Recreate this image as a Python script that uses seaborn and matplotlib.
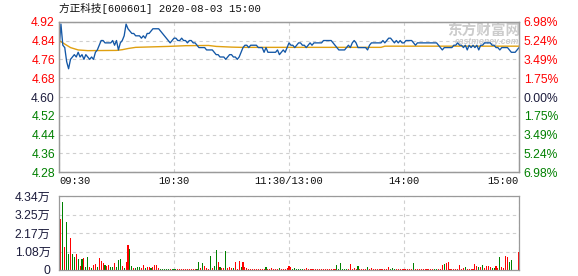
import matplotlib
matplotlib.use('Agg')
import matplotlib.pyplot as plt
import seaborn as sns
import pandas as pd

sns.set_theme(style='white')
plt.rcParams['font.family'] = ['Liberation Sans', 'Noto Sans CJK SC', 'DejaVu Sans']

# ---------------- data ----------------
title = '方正科技[600601] 2020-08-03 15:00'
prev_close = 4.60
price_ticks = [4.92, 4.84, 4.76, 4.68, 4.60, 4.52, 4.44, 4.36, 4.28]
pct_labels = ['6.98%', '5.24%', '3.49%', '1.75%', '0.00%', '1.75%', '3.49%', '5.24%', '6.98%']
vol_ticks = [4.34, 3.25, 2.17, 1.08, 0]
vol_labels = ['4.34万', '3.25万', '2.17万', '1.08万', '0']
time_ticks = [0, 60, 120, 180, 240]
time_labels = ['09:30', '10:30', '11:30/13:00', '14:00', '15:00']

minutes = list(range(241))

prices = [
    4.80, 4.91, 4.82, 4.81, 4.75, 4.72, 4.76, 4.77, 4.78, 4.77,
    4.79, 4.77, 4.78, 4.76, 4.78, 4.77, 4.76, 4.77, 4.76, 4.79,
    4.80, 4.82, 4.84, 4.84, 4.83, 4.83, 4.83, 4.83, 4.84, 4.82,
    4.84, 4.80, 4.83, 4.84, 4.86, 4.91, 4.89, 4.88, 4.87, 4.87,
    4.86, 4.86, 4.86, 4.85, 4.86, 4.85, 4.87, 4.87, 4.88, 4.89,
    4.89, 4.89, 4.89, 4.88, 4.87, 4.86, 4.85, 4.84, 4.83, 4.84,
    4.85, 4.85, 4.84, 4.84, 4.85, 4.84, 4.84, 4.83, 4.84, 4.84,
    4.83, 4.83, 4.82, 4.81, 4.81, 4.81, 4.81, 4.80, 4.80, 4.80,
    4.80, 4.79, 4.78, 4.78, 4.77, 4.77, 4.77, 4.76, 4.77, 4.78,
    4.78, 4.77, 4.77, 4.76, 4.77, 4.79, 4.81, 4.82, 4.82, 4.81,
    4.82, 4.82, 4.82, 4.82, 4.81, 4.81, 4.81, 4.79, 4.81, 4.79,
    4.79, 4.79, 4.79, 4.79, 4.80, 4.78, 4.79, 4.80, 4.79, 4.81,
    4.83, 4.82, 4.82, 4.81, 4.82, 4.83, 4.83, 4.82, 4.82, 4.81,
    4.82, 4.83, 4.82, 4.83, 4.83, 4.83, 4.83, 4.83, 4.84, 4.84,
    4.84, 4.84, 4.84, 4.83, 4.82, 4.81, 4.80, 4.80, 4.80, 4.80,
    4.81, 4.82, 4.81, 4.83, 4.84, 4.83, 4.81, 4.81, 4.81, 4.81,
    4.81, 4.80, 4.82, 4.83, 4.83, 4.83, 4.83, 4.83, 4.83, 4.84,
    4.83, 4.84, 4.85, 4.85, 4.84, 4.83, 4.84, 4.83, 4.84, 4.83,
    4.83, 4.84, 4.84, 4.84, 4.84, 4.83, 4.82, 4.83, 4.83, 4.83,
    4.83, 4.83, 4.83, 4.83, 4.83, 4.83, 4.83, 4.83, 4.82, 4.81,
    4.80, 4.81, 4.81, 4.81, 4.81, 4.81, 4.82, 4.82, 4.83, 4.82,
    4.82, 4.81, 4.82, 4.80, 4.82, 4.81, 4.82, 4.81, 4.82, 4.80,
    4.82, 4.82, 4.83, 4.83, 4.83, 4.83, 4.82, 4.82, 4.81, 4.81,
    4.80, 4.81, 4.81, 4.81, 4.81, 4.80, 4.79, 4.79, 4.79, 4.80,
    4.81,
]

avg_minutes = [0, 3, 6, 10, 15, 30, 33, 36, 40, 57, 66, 78, 82, 90, 95, 168, 170, 240]
avg_prices = [4.84, 4.825, 4.81, 4.80, 4.797, 4.798, 4.801, 4.806, 4.811, 4.815,
              4.818, 4.819, 4.815, 4.812, 4.811, 4.811, 4.816, 4.816]

# volume in 万 (10k shares), per minute
volumes = [
    0.00,
    3.00, 3.98, 1.35, 2.81, 0.94, 1.86, 0.94, 0.74, 0.94, 0.64,
    0.23, 0.64, 0.70, 0.16, 0.74, 0.16, 0.12, 0.29, 0.35, 0.16,
    0.68, 0.53, 0.39, 0.29, 0.23, 0.29, 0.16, 0.16, 0.39, 0.16,
    0.59, 0.64, 0.23, 0.10, 0.49, 1.46, 1.23, 0.23, 0.10, 0.10,
    0.16, 0.16, 0.10, 0.27, 0.10, 0.16, 0.16, 0.10, 0.20, 0.27,
    0.27, 0.10, 0.06, 0.06, 0.06, 0.06, 0.06, 0.06, 0.06, 0.06,
    0.06, 0.06, 0.06, 0.06, 0.06, 0.06, 0.06, 0.06, 0.06, 0.06,
    0.06, 0.06, 0.47, 0.10, 0.43, 0.23, 0.10, 0.06, 0.82, 0.10,
    0.23, 1.17, 0.47, 0.20, 0.10, 0.10, 1.13, 0.10, 0.16, 0.10,
    0.10, 0.49, 0.06, 0.55, 0.16, 0.45, 0.16, 0.10, 0.06, 0.06,
    0.06, 0.06, 0.06, 0.06, 0.06, 0.06, 0.06, 0.20, 0.06, 0.06,
    0.10, 0.06, 0.06, 0.06, 0.10, 0.06, 0.06, 0.06, 0.10, 0.23,
    0.16, 0.06, 0.10, 0.06, 0.06, 0.06, 0.06, 0.06, 0.10, 0.06,
    0.06, 0.06, 0.06, 0.06, 0.06, 0.06, 0.06, 0.06, 0.06, 0.06,
    0.06, 0.06, 0.06, 0.06, 0.29, 0.06, 0.41, 0.06, 0.06, 0.06,
    0.06, 0.35, 0.06, 0.10, 0.06, 0.23, 0.06, 0.06, 0.06, 0.06,
    0.16, 0.06, 0.10, 0.06, 0.06, 0.06, 0.06, 0.06, 0.06, 0.06,
    0.06, 0.16, 0.06, 0.10, 0.06, 0.06, 0.06, 0.06, 0.06, 0.06,
    0.06, 0.06, 0.06, 0.06, 0.41, 0.06, 0.06, 0.06, 0.06, 0.06,
    0.06, 0.06, 0.06, 0.06, 0.06, 0.06, 0.06, 0.06, 0.06, 0.29,
    0.35, 0.41, 0.47, 0.06, 0.06, 0.06, 0.06, 0.06, 0.29, 0.06,
    0.10, 0.16, 0.06, 0.06, 0.06, 0.06, 0.35, 0.23, 0.16, 0.20,
    0.29, 0.10, 0.23, 0.23, 0.16, 0.10, 0.10, 0.23, 0.10, 0.76,
    0.16, 0.10, 0.82, 0.78, 0.49, 0.59, 0.00, 0.00, 0.00, 1.04,
]
vol_dirs = (
    "r"
    "rgrggrggrg"
    "rgrggrgrrg"
    "rrrgrrggrg"
    "ggrgrrggrg"
    "ggrrgrrgrr"
    "rrgggggrgg"
    "grrrrrrrrr"
    "rggrgrrrgr"
    "ggrgrrgrrr"
    "grrrgrrrrr"
    "rrrrrrrgrr"
    "rrrrgrrrrr"
    "rggggggrrr"
    "rrrrrrrrrr"
    "rrrrggggg"
    "grrrrrgrrrr"
    "grrrrrrrrr"
    "rrggg"
    "rrrrrrrrrgrrrrr"
    "rrrrrggrrr"
    "grrrrrrrrr"
    "rgrrrrrrgr"
    "grrrrggrrg"
    "rrrrggrrrr"
)

up_color = '#ff0000'
down_color = '#008000'
flat_color = '#1c1c3c'
line_color = '#1357a6'
avg_color = '#e0a010'
grid_color = '#cfcfcf'
border_color = '#9a9a9a'

n = len(volumes)
vol_dirs = (vol_dirs + 'r' * n)[:n]
vol_df = pd.DataFrame({'minute': minutes[:n], 'vol': volumes, 'dir': list(vol_dirs)})
price_df = pd.DataFrame({'minute': minutes[:len(prices)], 'price': prices})
avg_df = pd.DataFrame({'minute': avg_minutes, 'price': avg_prices})

# ---------------- figure ----------------
W, H = 578, 276
fig = plt.figure(figsize=(W / 100, H / 100), dpi=100)
fig.patch.set_facecolor('white')
ax = fig.add_axes([59 / W, 103.7 / H, 460 / W, 150.6 / H])
axv = fig.add_axes([59 / W, 6 / H, 460 / W, 74 / H])

dash = (0, (3, 3))

# watermark (behind the lines)
ax.text(484 / W, 1 - 31 / H, '东方财富网', transform=fig.transFigure, fontsize=10.5,
        color='#cccccc', weight='bold', ha='center', va='center',
        family=['Noto Sans CJK SC'], zorder=0.5)
ax.text(487 / W, 1 - 42 / H, 'eastmoney.com', transform=fig.transFigure, fontsize=6.2,
        color='#cccccc', weight='bold', style='italic', ha='center', va='center',
        family=['Liberation Sans'], zorder=0.5)

sns.lineplot(data=avg_df, x='minute', y='price', ax=ax, color=avg_color, lw=1.0, zorder=3)
sns.lineplot(data=price_df, x='minute', y='price', ax=ax, color=line_color, lw=0.95, zorder=4)

ax.set_xlim(0, 240)
ax.set_ylim(4.28, 4.92)
ax.set_yticks(price_ticks)
ax.set_yticklabels([f'{t:.2f}' for t in price_ticks])
ax.set_xticks(time_ticks)
ax.set_xticklabels(time_labels)
ax.set_xlabel('')
ax.set_ylabel('')
ax.grid(True, color=grid_color, linestyle=dash, lw=0.8, zorder=1)
ax.tick_params(axis='both', length=0)
ax.tick_params(axis='y', pad=3, labelsize=8.7)
ax.tick_params(axis='x', pad=2.5, labelsize=7.6)

for lab, t in zip(ax.get_yticklabels(), price_ticks):
    lab.set_color(up_color if t > prev_close else down_color if t < prev_close else flat_color)
    lab.set_family(['Liberation Sans'])
xl = ax.get_xticklabels()
for i, lab in enumerate(xl):
    lab.set_family(['Liberation Mono'])
    lab.set_color('#111111')
    if i == 0:
        lab.set_horizontalalignment('left')
    elif i == len(xl) - 1:
        lab.set_horizontalalignment('right')

axr = ax.twinx()
axr.set_ylim(4.28, 4.92)
axr.set_yticks(price_ticks)
axr.set_yticklabels(pct_labels)
axr.tick_params(axis='y', length=0, pad=3.5, labelsize=8.7)
axr.grid(False)
for lab, t in zip(axr.get_yticklabels(), price_ticks):
    lab.set_color(up_color if t > prev_close else down_color if t < prev_close else flat_color)
    lab.set_family(['Liberation Sans'])

for a in (ax, axr, axv):
    for s in a.spines.values():
        s.set_color(border_color)
        s.set_linewidth(0.9)
        s.set_visible(True)
        s.set_zorder(6)

# volume bars
bar_colors = [up_color if d == 'r' else down_color for d in vol_df['dir']]
axv.bar(vol_df['minute'], vol_df['vol'], width=0.6, color=bar_colors,
        linewidth=0, antialiased=False, zorder=3)
axv.set_xlim(0, 240)
axv.set_ylim(0, 4.34)
axv.set_yticks(vol_ticks)
axv.set_yticklabels(vol_labels)
axv.set_xticks(time_ticks)
axv.set_xticklabels([])
axv.grid(True, color=grid_color, linestyle=dash, lw=0.8, zorder=1)
axv.set_axisbelow(True)
axv.tick_params(axis='both', length=0)
axv.tick_params(axis='y', pad=6, labelsize=8.7)
for lab in axv.get_yticklabels():
    lab.set_color(flat_color)
    lab.set_family(['Liberation Sans', 'Noto Sans CJK SC'])

fig.text(59 / W, 1 - 8.5 / H, title, ha='left', va='center', fontsize=7.7,
         color='#111111', family=['Liberation Mono', 'Noto Sans CJK SC'])

fig.savefig('out.png', dpi=100, facecolor='white')
